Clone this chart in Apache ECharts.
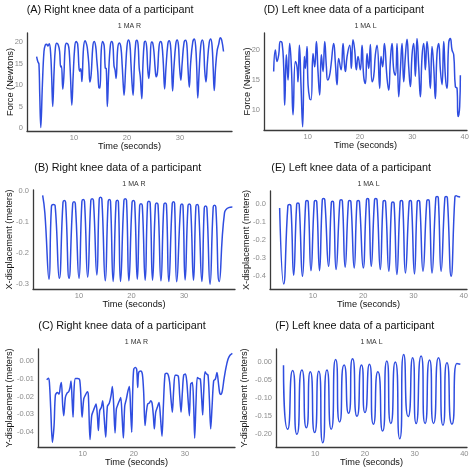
<!DOCTYPE html>
<html>
<head>
<meta charset="utf-8">
<script src="https://cdn.jsdelivr.net/npm/echarts@6/dist/echarts.min.js"></script>
<style>html,body{margin:0;padding:0;background:#fff}#c{width:474px;height:474px}</style>
</head>
<body>
<div id="c"></div>
<script>
// ---- Panel titles ----
const panelTitles = ['(A) Right knee data of a participant','(B) Right knee data of a participant','(C) Right knee data of a participant',
  '(D) Left knee data of a participant','(E) Left knee data of a participant','(F) Left knee data of a participant'];
const panelSubtitles = ['1 MA R','1 MA R','1 MA R','1 MA L','1 MA L','1 MA L'];
const yTitles = ['Force (Newtons)','X-displacement (meters)','Y-displacement (meters)','Force (Newtons)','X-displacement (meters)','Y-displacement (meters)'];
const xTitle = 'Time (seconds)';

// ---- Tick labels ----
const xLabelsLeft = ['10','20','30'];
const xLabelsRight = ['10','20','30','40'];
const yLabelsA = ['0','5','10','15','20'];
const yLabelsB = ['0.0','-0.1','-0.2','-0.3'];
const yLabelsC = ['0.00','-0.01','-0.02','-0.03','-0.04'];
const yLabelsD = ['10','15','20'];
const yLabelsE = ['0.0','-0.1','-0.2','-0.3','-0.4'];
const yLabelsF = ['0.00','-0.05','-0.10','-0.15','-0.20'];

// ---- Series: [time (s), value] ----
const rightForce = [[2.96,16.6],[3.2,15.4],[3.4,14.9],[3.55,8],[3.75,0.1],[4.05,10],[4.35,17.8],[4.6,19.3],[4.85,19.5],[5.1,19.1],[5.35,19.6],[5.6,17.5],[5.8,12],[6.0,5.0],[6.25,13],[6.5,18.6],[6.75,19.7],[7.05,19.3],[7.3,17.8],[7.5,14.2],[7.65,14.4],[7.9,9],[8.1,12],[8.35,18.8],[8.6,19.7],[8.9,19.4],[9.1,18],[9.35,12],[9.6,5.3],[9.85,12],[10.15,18.8],[10.4,20.1],[10.7,19.5],[10.95,14],[11.1,13.2],[11.3,13.8],[11.5,10.8],[11.8,18.5],[12.1,20.3],[12.4,19.4],[12.55,18.3],[12.8,15],[13.0,10.7],[13.25,12.5],[13.55,18.8],[13.8,20.1],[14.1,19.0],[14.3,16],[14.5,13],[14.7,9.4],[14.9,9.3],[15.15,18],[15.4,20.1],[15.7,19.1],[15.9,14],[16.1,13.8],[16.3,5.0],[16.55,13],[16.85,19],[17.1,20.1],[17.35,19.3],[17.55,14.5],[17.75,13.5],[17.95,11.5],[18.25,18.5],[18.55,19.8],[18.85,18.8],[19.1,14.5],[19.3,10],[19.45,7.6],[19.75,14],[20.0,19],[20.25,20.5],[20.55,19.4],[20.75,15],[20.95,10.5],[21.15,7.6],[21.4,15],[21.65,19.8],[21.85,20.4],[22.1,19.3],[22.3,14],[22.5,12],[22.8,6.8],[23.0,14.5],[23.25,19.8],[23.45,20.2],[23.7,19],[23.9,14],[24.1,11.5],[24.35,15],[24.6,20],[24.85,19.8],[25.1,17.5],[25.3,14],[25.5,11.9],[25.75,13],[26.05,19],[26.35,20.1],[26.6,19.3],[26.85,15],[27.1,9.1],[27.35,14],[27.7,19.5],[27.95,20.3],[28.2,19.3],[28.4,15],[28.6,8.6],[28.85,14],[29.2,19.5],[29.45,20.5],[29.7,19.3],[29.9,14.5],[30.15,11.1],[30.4,15],[30.75,19.8],[31.05,20.4],[31.3,19.2],[31.5,14],[31.75,9.5],[32.0,15],[32.4,20],[32.7,20.7],[32.95,19],[33.15,14],[33.35,7.0],[33.6,13],[33.9,19],[34.2,20.5],[34.45,19.2],[34.65,13.5],[34.9,10.7],[35.15,15],[35.5,19.8],[35.8,20.7],[36.05,19],[36.25,14],[36.45,8.7],[36.7,14],[37.0,18],[37.3,19.5],[37.6,21.0],[37.85,20.5],[38.2,17.8]];

const rightX = [[3.08,-0.013],[3.5,-0.07],[4.29,-0.284],[4.75,-0.05],[5.1,-0.043],[5.45,-0.046],[6.25,-0.281],[6.95,-0.036],[7.2,-0.030],[7.45,-0.036],[8.1,-0.281],[8.8,-0.040],[9.05,-0.034],[9.3,-0.040],[10.0,-0.281],[10.55,-0.033],[10.8,-0.027],[11.05,-0.033],[11.65,-0.277],[12.25,-0.030],[12.5,-0.024],[12.75,-0.030],[13.4,-0.270],[13.85,-0.025],[14.1,-0.019],[14.35,-0.025],[15.0,-0.289],[15.55,-0.033],[15.8,-0.027],[16.0,-0.033],[16.5,-0.291],[17.05,-0.035],[17.3,-0.029],[17.5,-0.035],[17.9,-0.291],[18.55,-0.030],[18.8,-0.024],[19.05,-0.030],[19.5,-0.289],[20.1,-0.036],[20.35,-0.030],[20.6,-0.036],[21.1,-0.284],[21.55,-0.046],[21.8,-0.040],[22.05,-0.046],[22.6,-0.287],[23.05,-0.038],[23.3,-0.032],[23.55,-0.038],[24.0,-0.287],[24.55,-0.044],[24.8,-0.038],[25.05,-0.044],[25.6,-0.289],[26.15,-0.044],[26.4,-0.038],[26.65,-0.044],[27.1,-0.291],[27.75,-0.040],[28.0,-0.034],[28.2,-0.040],[28.6,-0.292],[29.35,-0.047],[29.6,-0.041],[29.8,-0.047],[30.2,-0.286],[30.75,-0.047],[31.0,-0.041],[31.25,-0.047],[31.8,-0.287],[32.25,-0.049],[32.5,-0.043],[32.75,-0.049],[33.4,-0.291],[33.85,-0.054],[34.1,-0.048],[34.35,-0.054],[34.95,-0.300],[35.55,-0.051],[35.8,-0.045],[36.05,-0.051],[36.7,-0.291],[37.7,-0.070],[38.5,-0.053],[39.2,-0.051]];

const rightY = [[2.96,-0.0106],[3.29,-0.0097],[3.49,-0.0121],[3.75,-0.027],[4.07,-0.0456],[4.4,-0.0363],[4.66,-0.0192],[5.05,-0.0177],[5.37,-0.0186],[5.64,-0.014],[5.83,-0.0121],[6.09,-0.0251],[6.29,-0.0307],[6.61,-0.0205],[6.94,-0.018],[7.26,-0.0173],[7.52,-0.0149],[7.72,-0.0112],[7.92,-0.0214],[8.11,-0.0316],[8.31,-0.0158],[8.57,-0.0099],[9.02,-0.0099],[9.41,-0.0106],[9.67,-0.0214],[9.87,-0.0316],[10.2,-0.0214],[10.52,-0.0192],[10.91,-0.0173],[11.11,-0.0195],[11.43,-0.0441],[11.76,-0.0307],[12.08,-0.0279],[12.41,-0.0255],[12.61,-0.0242],[12.87,-0.0307],[13.06,-0.0391],[13.32,-0.0279],[13.65,-0.026],[13.91,-0.0223],[14.17,-0.0307],[14.5,-0.0428],[14.82,-0.0255],[15.21,-0.0236],[15.54,-0.0195],[15.8,-0.0143],[16.06,-0.0251],[16.32,-0.0404],[16.58,-0.027],[16.91,-0.0242],[17.17,-0.0223],[17.43,-0.0205],[17.69,-0.0307],[17.95,-0.0433],[18.21,-0.0255],[18.53,-0.0214],[18.86,-0.0167],[19.12,-0.0143],[19.38,-0.0288],[19.58,-0.04],[19.77,-0.0177],[19.97,-0.0047],[20.29,-0.0037],[20.55,-0.0047],[20.75,-0.0149],[20.94,-0.0065],[21.34,-0.0056],[21.66,-0.0074],[21.92,-0.0177],[22.18,-0.0363],[22.44,-0.0288],[22.7,-0.0242],[23.03,-0.0236],[23.29,-0.0223],[23.55,-0.0236],[23.81,-0.0307],[24.0,-0.0381],[24.27,-0.0288],[24.59,-0.026],[24.92,-0.0233],[25.18,-0.0307],[25.5,-0.0422],[25.77,-0.0251],[26.09,-0.0074],[26.42,-0.0069],[26.74,-0.008],[27.0,-0.0121],[27.26,-0.0214],[27.52,-0.0288],[27.79,-0.0158],[28.05,-0.008],[28.37,-0.008],[28.7,-0.0087],[28.96,-0.0195],[29.22,-0.0288],[29.48,-0.0177],[29.74,-0.008],[30.07,-0.0074],[30.33,-0.0112],[30.59,-0.0214],[30.85,-0.0307],[31.11,-0.013],[31.43,-0.0121],[31.69,-0.0251],[31.89,-0.0433],[32.15,-0.0233],[32.41,-0.0093],[32.74,-0.0099],[33.0,-0.0102],[33.26,-0.0214],[33.45,-0.0303],[33.65,-0.0177],[33.91,-0.0061],[34.23,-0.0074],[34.5,-0.008],[34.76,-0.0214],[35.02,-0.0381],[35.28,-0.026],[35.6,-0.0112],[35.93,-0.0102],[36.25,-0.0065],[36.52,-0.0121],[36.78,-0.018],[37.04,-0.0188],[37.3,-0.0167],[37.62,-0.0102],[38.01,-0.0037],[38.4,0.0009],[38.79,0.0032],[39.25,0.0043]];

const leftForce = [[3.5,16.4],[3.82,20.0],[4.14,18.1],[4.46,19.2],[4.78,21.4],[5.1,21.2],[5.41,17.2],[5.61,10.8],[5.92,19.2],[6.24,15.0],[6.56,21.1],[6.88,17.2],[7.2,9.2],[7.64,18.1],[7.96,17.2],[8.15,14.7],[8.41,20.8],[8.73,13.9],[9.04,7.2],[9.36,18.9],[9.55,16.9],[9.87,20.6],[10.06,14.4],[10.38,11.9],[10.64,11.7],[11.02,19.4],[11.34,17.2],[11.66,21.4],[11.97,16.4],[12.29,12.5],[12.61,19.2],[12.93,16.4],[13.25,21.4],[13.57,17.2],[13.82,15.0],[14.14,15.6],[14.46,17.5],[14.97,21.1],[15.29,17.8],[15.61,14.2],[15.92,18.6],[16.37,16.7],[16.75,21.1],[17.01,17.8],[17.2,16.4],[17.52,18.9],[18.03,20.8],[18.34,16.9],[18.66,21.7],[18.98,20.0],[19.3,16.7],[19.62,18.9],[20.06,16.7],[20.38,20.8],[20.7,15.6],[21.02,14.4],[21.34,19.4],[21.66,16.9],[21.97,20.9],[22.29,14.7],[22.61,15.6],[22.93,19.2],[23.25,20.8],[23.76,13.6],[24.01,18.9],[24.33,17.2],[24.65,21.1],[25.16,15.3],[25.48,13.3],[25.8,18.3],[26.11,21.1],[26.43,16.7],[26.75,15.8],[27.07,21.1],[27.39,12.2],[27.71,16.7],[28.03,21.1],[28.34,14.7],[28.66,18.9],[28.98,21.8],[29.3,17.2],[29.62,13.9],[29.94,19.2],[30.25,21.1],[30.57,15.6],[30.89,21.9],[31.21,17.2],[31.53,12.2],[31.85,18.9],[32.17,21.1],[32.48,16.7],[32.8,21.4],[33.12,18.3],[33.44,13.6],[33.76,20.6],[34.08,17.2],[34.39,11.9],[34.71,19.4],[35.03,21.1],[35.35,16.7],[35.67,14.2],[35.99,21.4],[36.31,15.6],[36.62,13.6],[36.94,21.1],[37.26,21.9],[37.58,20.0],[37.9,19.2],[38.22,13.9],[38.54,13.6],[38.73,8.9],[39.04,10.6],[39.17,15.8]];

const leftX = [[3.36,-0.024],[4.16,-0.442],[5.0,-0.012],[5.3,-0.005],[5.6,-0.012],[6.15,-0.394],[6.75,-0.003],[7.0,0.004],[7.25,-0.003],[7.9,-0.400],[8.55,0.010],[8.8,0.017],[9.05,0.010],[9.6,-0.369],[10.25,0.010],[10.5,0.017],[10.75,0.010],[11.3,-0.369],[11.85,0.021],[12.1,0.028],[12.35,0.021],[13.1,-0.345],[13.65,0.006],[13.9,0.013],[14.1,0.006],[14.6,-0.363],[15.35,0.015],[15.6,0.022],[15.85,0.015],[16.4,-0.350],[17.05,0.011],[17.3,0.018],[17.55,0.011],[18.2,-0.354],[18.75,0.010],[19.0,0.017],[19.25,0.010],[20.0,-0.354],[20.65,0.021],[20.9,0.028],[21.1,0.021],[21.6,-0.345],[22.25,0.021],[22.5,0.028],[22.75,0.021],[23.4,-0.363],[23.95,0.010],[24.2,0.017],[24.45,0.010],[25.1,-0.372],[25.65,0.002],[25.9,0.009],[26.15,0.002],[26.7,-0.390],[27.35,0.010],[27.6,0.017],[27.85,0.010],[28.4,-0.382],[29.15,0.011],[29.4,0.018],[29.6,0.011],[30.2,-0.387],[30.75,0.010],[31.0,0.017],[31.25,0.010],[31.9,-0.372],[32.65,0.015],[32.9,0.022],[33.15,0.015],[33.7,-0.382],[34.45,0.033],[34.7,0.040],[34.95,0.033],[35.5,-0.372],[36.25,0.033],[36.5,0.040],[36.75,0.033],[37.5,-0.400],[38.25,0.037],[38.5,0.044],[38.8,0.040],[39.3,0.037]];

const leftY = [[3.6,-0.010],[4.43,-0.186],[5.44,-0.024],[6.3,-0.200],[7.3,-0.023],[8.2,-0.182],[9.0,-0.028],[9.87,-0.195],[10.7,-0.026],[11.5,-0.223],[12.35,-0.023],[13.2,-0.186],[14.1,0.006],[14.9,-0.166],[15.8,-0.009],[16.7,-0.142],[17.5,0.008],[18.4,-0.150],[19.3,-0.009],[20.0,-0.140],[20.9,-0.007],[21.7,-0.172],[22.6,-0.028],[23.55,-0.191],[24.4,0.002],[25.2,-0.170],[26.1,-0.001],[27.0,-0.212],[27.8,0.020],[28.7,-0.151],[29.6,0.011],[30.3,-0.170],[31.3,0.016],[32.1,-0.170],[33.0,0.005],[33.8,-0.170],[34.8,0.011],[35.7,-0.175],[36.5,-0.003],[37.5,-0.172],[38.5,-0.005],[39.2,-0.007]];

// ---- layout ----
const panels = [
  {grid:{left:27,top:33,width:205,height:98}, x:[1.15,39.8], y:[-0.7,22.1], data:rightForce, xl:xLabelsLeft, yl:yLabelsA, smooth:0.4, tx:26.7, ty:10, sy:26, ytx:10},
  {grid:{left:33,top:190,width:202,height:99}, x:[1.24,39.7], y:[-0.3154,0.004], data:rightX, xl:xLabelsLeft, yl:yLabelsB, smooth:0.5, tx:34.3, ty:167.8, sy:184, ytx:9.5},
  {grid:{left:38,top:349,width:197,height:98}, x:[1.26,39.77], y:[-0.0483,0.0067], data:rightY, xl:xLabelsLeft, yl:yLabelsC, smooth:0.3, tx:38.3, ty:325.8, sy:342, ytx:9.5},
  {grid:{left:264,top:33,width:203,height:97}, x:[1.65,40.44], y:[6.67,22.83], data:leftForce, xl:xLabelsRight, yl:yLabelsD, smooth:0.5, tx:263.7, ty:10, sy:26, ytx:247},
  {grid:{left:270,top:191,width:197,height:98}, x:[1.44,40.66], y:[-0.47,0.07], data:leftX, xl:xLabelsRight, yl:yLabelsE, smooth:0.5, tx:271.3, ty:167.8, sy:184, ytx:246.5},
  {grid:{left:276,top:349,width:191,height:98}, x:[2.09,40.54], y:[-0.235,0.035], data:leftY, xl:xLabelsRight, yl:yLabelsF, smooth:0.9, tx:275.3, ty:325.8, sy:342, ytx:244}
];

const FONT = "'Liberation Sans', Arial, sans-serif";
const grids = [], xAxes = [], yAxes = [], series = [], graphics = [];
panels.forEach((p, i) => {
  grids.push(Object.assign({containLabel:false}, p.grid));
  const xv = p.xl.map(Number), yv = p.yl.map(Number);
  xAxes.push({type:'value', gridIndex:i, min:p.x[0], max:p.x[1],
    axisLine:{show:true, onZero:false, lineStyle:{color:'#3a3a3a', width:1.3}},
    axisTick:{show:false}, splitLine:{show:false},
    axisLabel:{customValues:xv, margin:3, color:'#8c8c8c', fontSize:7.5, fontFamily:FONT,
      formatter:v => { const k = xv.findIndex(t => Math.abs(t - v) < 1e-9); return k >= 0 ? p.xl[k] : ''; }}});
  yAxes.push({type:'value', gridIndex:i, min:p.y[0], max:p.y[1],
    axisLine:{show:true, onZero:false, lineStyle:{color:'#3a3a3a', width:1.3}},
    axisTick:{show:false}, splitLine:{show:false},
    axisLabel:{customValues:yv, margin:4, color:'#8c8c8c', fontSize:7.5, fontFamily:FONT,
      formatter:v => { const k = yv.findIndex(t => Math.abs(t - v) < 1e-9); return k >= 0 ? p.yl[k] : ''; }}});
  series.push({type:'line', xAxisIndex:i, yAxisIndex:i, data:p.data, showSymbol:false, smooth:p.smooth,
    lineStyle:{color:'#2f4de0', width:1.5}, animation:false});
  const g = p.grid, cx = g.left + g.width/2, cy = g.top + g.height/2;
  graphics.push({type:'text', x:p.tx, y:p.ty, style:{text:panelTitles[i], font:'10.8px ' + FONT, fill:'#111', align:'left', verticalAlign:'middle'}});
  graphics.push({type:'text', x:cx, y:p.sy, style:{text:panelSubtitles[i], font:'7px ' + FONT, fill:'#333', align:'center', verticalAlign:'middle'}});
  graphics.push({type:'text', x:cx, y:g.top + g.height + 15.7, style:{text:xTitle, font:'9.2px ' + FONT, fill:'#111', align:'center', verticalAlign:'middle'}});
  graphics.push({type:'text', x:p.ytx, y:cy, rotation:Math.PI/2, style:{text:yTitles[i], font:'9.2px ' + FONT, fill:'#111', align:'center', verticalAlign:'middle'}});
});

const chart = echarts.init(document.getElementById('c'), null, {renderer:'canvas'});
chart.setOption({animation:false, backgroundColor:'#fff', grid:grids, xAxis:xAxes, yAxis:yAxes, series:series, graphic:graphics});
</script>
</body>
</html>
